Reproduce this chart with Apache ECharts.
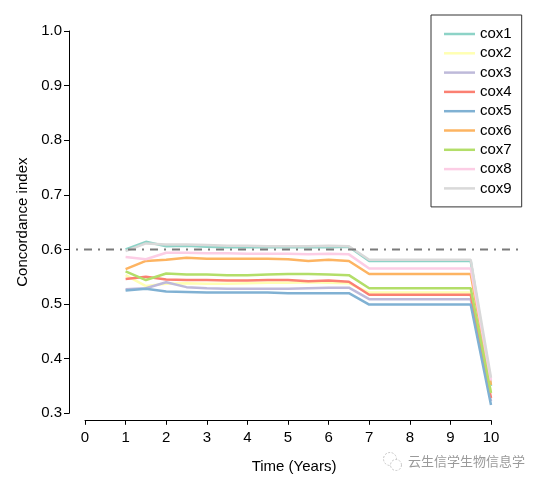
<!DOCTYPE html>
<html>
<head>
<meta charset="utf-8">
<script src="https://cdn.jsdelivr.net/npm/echarts@6/dist/echarts.min.js"></script>
<style>
html,body{margin:0;padding:0;background:#fff;}
#c{width:540px;height:488px;}
</style>
</head>
<body>
<div id="c"></div>
<script>
var times = [1, 1.5, 2, 2.5, 3, 3.5, 4, 4.5, 5, 5.5, 6, 6.5, 7, 7.5, 8, 8.5, 9, 9.5, 10];
var seriesNames = ['cox1','cox2','cox3','cox4','cox5','cox6','cox7','cox8','cox9'];
var colors = ['#8DD3C7','#FFFFB3','#BEBADA','#FB8072','#80B1D3','#FDB462','#B3DE69','#FCCDE5','#D9D9D9'];
var cox1 = [0.600,0.614,0.606,0.607,0.605,0.604,0.604,0.604,0.604,0.604,0.604,0.605,0.579,0.579,0.579,0.579,0.579,0.579,0.350];
var cox2 = [0.553,0.533,0.537,0.538,0.537,0.537,0.538,0.539,0.539,0.540,0.539,0.538,0.521,0.521,0.521,0.521,0.521,0.521,0.340];
var cox3 = [0.527,0.529,0.540,0.531,0.529,0.528,0.528,0.528,0.528,0.529,0.530,0.530,0.509,0.509,0.509,0.509,0.509,0.509,0.322];
var cox4 = [0.546,0.550,0.545,0.544,0.544,0.543,0.543,0.544,0.544,0.542,0.543,0.541,0.517,0.517,0.517,0.517,0.517,0.517,0.328];
var cox5 = [0.525,0.528,0.523,0.522,0.521,0.521,0.521,0.521,0.520,0.520,0.520,0.520,0.499,0.499,0.499,0.499,0.499,0.499,0.315];
var cox6 = [0.564,0.579,0.581,0.585,0.583,0.583,0.583,0.583,0.582,0.579,0.581,0.579,0.555,0.555,0.555,0.555,0.555,0.555,0.352];
var cox7 = [0.560,0.544,0.556,0.554,0.554,0.553,0.553,0.554,0.555,0.555,0.554,0.553,0.529,0.529,0.529,0.529,0.529,0.529,0.337];
var cox8 = [0.586,0.582,0.594,0.594,0.593,0.593,0.592,0.592,0.592,0.591,0.592,0.591,0.565,0.565,0.565,0.565,0.565,0.565,0.360];
var cox9 = [0.597,0.611,0.609,0.609,0.608,0.607,0.607,0.606,0.606,0.606,0.607,0.606,0.581,0.581,0.581,0.581,0.581,0.581,0.365];
var allValues = [cox1,cox2,cox3,cox4,cox5,cox6,cox7,cox8,cox9];
var refLevel = 0.6;
var xTicks = [0,1,2,3,4,5,6,7,8,9,10];
var yTicks = [0.3,0.4,0.5,0.6,0.7,0.8,0.9,1.0];

var FONT = "'Liberation Sans', Arial, sans-serif";
var chart = echarts.init(document.getElementById('c'), null, {renderer:'canvas'});

var series = seriesNames.map(function(n, i){
  return {
    name: n, type: 'line', xAxisIndex: 0, yAxisIndex: 0,
    data: times.map(function(t, j){ return [t, allValues[i][j]]; }),
    showSymbol: false, symbol: 'none',
    lineStyle: {color: colors[i], width: 2.5},
    itemStyle: {color: colors[i]},
    z: 2 + i, animation: false
  };
});
series.push({
  name: 'ref', type: 'line', xAxisIndex: 1, yAxisIndex: 1,
  data: [[0, refLevel], [1, refLevel]],
  showSymbol: false, symbol: 'none',
  lineStyle: {color: '#7a7a7a', width: 2, type: [2, 6, 8, 6]},
  z: 20, animation: false, silent: true
});

var option = {
  backgroundColor: '#fff',
  animation: false,
  textStyle: {fontFamily: FONT},
  grid: [
    {left: 85, right: 49, top: 31, bottom: 74.7, outerBoundsMode: 'none', containLabel: false},
    {left: 76, right: 18, top: 31, bottom: 74.7, outerBoundsMode: 'none', containLabel: false}
  ],
  xAxis: [{
    gridIndex: 0, type: 'value', min: 0, max: 10, interval: 1,
    offset: 7,
    name: 'Time (Years)', nameLocation: 'middle', nameGap: 39,
    nameTextStyle: {fontSize: 15, color: '#000', fontFamily: FONT, padding: [0,0,0,12]},
    axisLine: {show: true, onZero: false, lineStyle: {color: '#000', width: 1}},
    axisTick: {show: true, length: 4.5, lineStyle: {color: '#000', width: 1}},
    axisLabel: {fontSize: 15, color: '#000', margin: 10, fontFamily: FONT,
      formatter: function(v){ return xTicks.indexOf(v) >= 0 ? String(v) : ''; }},
    splitLine: {show: false}
  },{
    gridIndex: 1, type: 'value', min: 0, max: 1, show: false
  }],
  yAxis: [{
    gridIndex: 0, type: 'value', min: 0.3, max: 1.0, interval: 0.1,
    offset: 16,
    name: 'Concordance index', nameLocation: 'middle', nameGap: 39,
    nameTextStyle: {fontSize: 15, color: '#000', fontFamily: FONT},
    axisLine: {show: true, onZero: false, lineStyle: {color: '#000', width: 1}},
    axisTick: {show: true, length: 5, lineStyle: {color: '#000', width: 1}},
    axisLabel: {fontSize: 15, color: '#000', margin: 7, fontFamily: FONT,
      formatter: function(v){ return v.toFixed(1); }},
    splitLine: {show: false}
  },{
    gridIndex: 1, type: 'value', min: 0.3, max: 1.0, show: false
  }],
  legend: {
    data: seriesNames,
    orient: 'vertical',
    left: 431, top: 15,
    padding: [11.5, 10, 11, 13],
    borderColor: '#333', borderWidth: 1,
    itemWidth: 31, itemHeight: 2.5, itemGap: 4.3,
    icon: 'rect',
    textStyle: {fontSize: 15, color: '#000', lineHeight: 15, fontFamily: FONT},
    selectedMode: false
  },
  graphic: [
    {type: 'text', left: 408, top: 455,
     style: {text: '云生信学生物信息学', fill: '#9a9a9a', font: "13px 'Noto Sans CJK SC'"}},
    {type: 'circle', shape: {cx: 390, cy: 459, r: 6.5},
     style: {fill: 'none', stroke: '#c8c8c8', lineWidth: 1, lineDash: [2,1.5]}},
    {type: 'circle', shape: {cx: 396, cy: 465, r: 5.5},
     style: {fill: '#fff', stroke: '#c8c8c8', lineWidth: 1, lineDash: [2,1.5]}}
  ],
  series: series
};
chart.setOption(option);
</script>
</body>
</html>
